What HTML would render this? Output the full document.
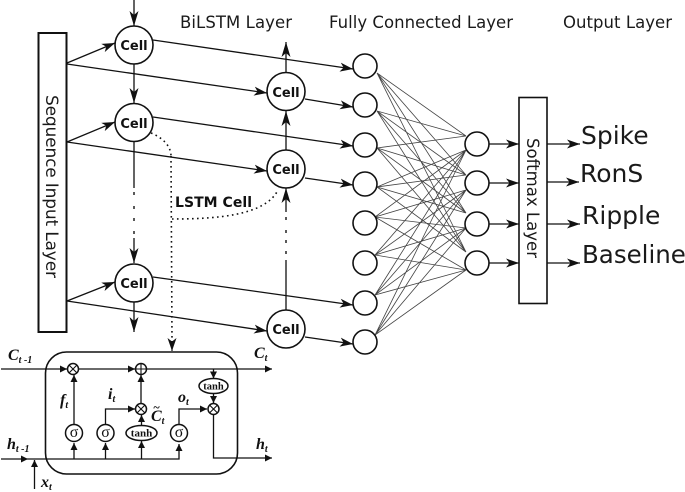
<!DOCTYPE html>
<html><head><meta charset="utf-8"><style>
html,body{margin:0;padding:0;background:#fff;width:685px;height:492px;overflow:hidden}
svg{display:block}
.t{font-family:"DejaVu Sans",sans-serif;fill:#1a1a1a}
.c{font-family:"DejaVu Sans",sans-serif;font-weight:bold;font-size:13px;text-anchor:middle;fill:#111}
.s{font-family:"Liberation Serif",serif;font-weight:bold;font-style:italic;font-size:15px;fill:#111}
.s tspan{font-size:10px}
.n{font-family:"Liberation Serif",serif;font-weight:bold;font-size:11px;text-anchor:middle;fill:#111}
.g{font-family:"Liberation Serif",serif;font-size:16px;text-anchor:middle;fill:#111}
</style></head><body>
<svg width="685" height="492" viewBox="0 0 685 492" xmlns="http://www.w3.org/2000/svg">
<defs>
<marker id="a" markerUnits="userSpaceOnUse" markerWidth="16" markerHeight="12" refX="13" refY="5" orient="auto"><path d="M0 0.500L13 5L0 9.500L3.500 5z" fill="#111"/></marker>
<marker id="v" markerUnits="userSpaceOnUse" markerWidth="18" markerHeight="12" refX="15" refY="5" orient="auto"><path d="M0 0.500L15 5L0 9.500L4 5z" fill="#111"/></marker>
<marker id="b" markerUnits="userSpaceOnUse" markerWidth="10" markerHeight="10" refX="7" refY="3.500" orient="auto"><path d="M0 0L7 3.500L0 7z" fill="#111"/></marker>
</defs>
<rect width="685" height="492" fill="#fff"/>

<!-- titles -->
<text class="t" x="180" y="28" font-size="16.5" textLength="112">BiLSTM Layer</text>
<text class="t" x="329" y="28" font-size="16.5" textLength="184">Fully Connected Layer</text>
<text class="t" x="563" y="28" font-size="16.5" textLength="109">Output Layer</text>

<!-- fully connected mesh -->
<path fill="none" stroke="#444" stroke-width="0.8" d="M377 73L466 136M377 73L466 175M377 73L466 213M377 73L466 252M377 111L466 136M377 111L466 175M377 111L466 213M377 111L466 252M377 148L466 136M377 148L466 175M377 148L466 213M377 148L466 252M377 187L466 150M377 187L466 175M377 187L466 213M377 187L466 252M375 217L466 150M375 217L466 190M375 217L466 228M375 217L466 270M375 255L466 150M375 255L466 190M375 255L466 228M375 255L466 270M375 295L466 150M375 295L466 190M375 295L466 228M375 295L466 270M375 335L466 150M375 335L466 190M375 335L466 228M375 335L466 270"/>

<!-- input rect -->
<rect x="38.500" y="33" width="28" height="299" fill="#fff" stroke="#111" stroke-width="2"/>
<text class="t" font-size="17" transform="translate(46,95) rotate(90)" textLength="183">Sequence Input Layer</text>

<!-- connectors -->
<g fill="none" stroke="#111" stroke-width="1.300">
<path d="M67 63L115 43" marker-end="url(#a)"/>
<path d="M67 64L267 93" marker-end="url(#a)"/>
<path d="M67 142L115 122" marker-end="url(#a)"/>
<path d="M67 142L267 171" marker-end="url(#a)"/>
<path d="M67 301L115 282" marker-end="url(#a)"/>
<path d="M67 301L267 331" marker-end="url(#a)"/>
<path d="M153 40L353 69" marker-end="url(#a)"/>
<path d="M305 99L353 107" marker-end="url(#a)"/>
<path d="M153 117L353 146" marker-end="url(#a)"/>
<path d="M305 178L353 185" marker-end="url(#a)"/>
<path d="M153 277L353 305" marker-end="url(#a)"/>
<path d="M305 337L353 344" marker-end="url(#a)"/>
<path d="M134 0V26" marker-end="url(#v)"/>
<path d="M134 64V103" marker-end="url(#v)"/>
<path d="M134 142V188"/>
<path d="M134 238V263" marker-end="url(#v)"/>
<path d="M134 302V332" marker-end="url(#v)"/>
<path d="M286 72V42" marker-end="url(#v)"/>
<path d="M286 150V111" marker-end="url(#v)"/>
<path d="M286 310V260"/>
<path d="M286 212V188" marker-end="url(#v)"/>
</g>
<g fill="none" stroke="#222" stroke-width="1.500">
<path d="M134 192V195M134 206V209M134 218V221M134 231V234"/>
<path d="M286 217V220M286 230V233M286 240V243M286 251V254"/>
</g>

<!-- dotted LSTM cell -->
<g fill="none" stroke="#111" stroke-width="1.600" stroke-dasharray="1.600 3.400">
<path d="M151 133C161 137 171 145 171 156"/>
<path d="M171 156L172 340"/>
<path d="M172 219C215 219 265 216 278 190"/>
</g>
<path d="M172 341V351" fill="none" stroke="#111" stroke-width="1.200" marker-end="url(#a)"/>
<text x="175" y="207" font-family="DejaVu Sans,sans-serif" font-weight="bold" font-size="14" fill="#111" textLength="77">LSTM Cell</text>

<!-- cells -->
<g fill="#fff" stroke="#111" stroke-width="1.600">
<circle cx="134" cy="45" r="19"/><circle cx="134" cy="122.500" r="19"/><circle cx="134" cy="283" r="19"/>
<circle cx="286" cy="91.500" r="19"/><circle cx="286" cy="169" r="19"/><circle cx="286" cy="329" r="19"/>
<circle cx="365" cy="66" r="12"/><circle cx="365" cy="105" r="12"/><circle cx="365" cy="145" r="12"/><circle cx="365" cy="184" r="12"/>
<circle cx="365" cy="223" r="12"/><circle cx="365" cy="263" r="12"/><circle cx="365" cy="303" r="12"/><circle cx="365" cy="342" r="12"/>
<circle cx="477" cy="144" r="12"/><circle cx="477" cy="183" r="12"/><circle cx="477" cy="224" r="12"/><circle cx="477" cy="263" r="12"/>
</g>
<text class="c" x="134" y="50">Cell</text><text class="c" x="134" y="128">Cell</text><text class="c" x="134" y="288">Cell</text>
<text class="c" x="286" y="97">Cell</text><text class="c" x="286" y="174">Cell</text><text class="c" x="286" y="334">Cell</text>

<!-- softmax -->
<g fill="none" stroke="#111" stroke-width="1.200">
<path d="M489 144H519" marker-end="url(#a)"/><path d="M489 183H519" marker-end="url(#a)"/><path d="M489 224H519" marker-end="url(#a)"/><path d="M489 263H519" marker-end="url(#a)"/>
<path d="M547 144H580" marker-end="url(#a)"/><path d="M547 182H579" marker-end="url(#a)"/><path d="M547 224H580" marker-end="url(#a)"/><path d="M547 263H580" marker-end="url(#a)"/>
</g>
<rect x="519" y="97.500" width="28" height="206" fill="#fff" stroke="#111" stroke-width="1.600"/>
<text class="t" font-size="16.5" transform="translate(527,138) rotate(90)" textLength="120">Softmax Layer</text>
<text class="t" x="581" y="144" font-size="25">Spike</text>
<text class="t" x="580" y="182" font-size="25">RonS</text>
<text class="t" x="582" y="224" font-size="25">Ripple</text>
<text class="t" x="582" y="263" font-size="24.500">Baseline</text>

<!-- LSTM cell detail -->
<rect x="45.500" y="352" width="192" height="122" rx="21" fill="none" stroke="#111" stroke-width="1.600"/>
<g fill="none" stroke="#111" stroke-width="1.300">
<path d="M1 369H67" marker-end="url(#b)"/>
<path d="M79 369H135" marker-end="url(#b)"/>
<path d="M147 369H272" marker-end="url(#b)"/>
<path d="M1 459H28" marker-end="url(#b)"/>
<path d="M28 459H179V444" marker-end="url(#b)"/>
<path d="M34.500 489V460" marker-end="url(#b)"/>
<path d="M74 459V443" marker-end="url(#b)"/>
<path d="M105.500 459V443" marker-end="url(#b)"/>
<path d="M141.500 459V441" marker-end="url(#b)"/>
<path d="M74 424V375" marker-end="url(#b)"/>
<path d="M105.500 424V409H135" marker-end="url(#b)"/>
<path d="M141.500 425V415" marker-end="url(#b)"/>
<path d="M141 403V375" marker-end="url(#b)"/>
<path d="M179 424V409H207" marker-end="url(#b)"/>
<path d="M213.500 369V378.500" marker-end="url(#b)"/>
<path d="M213.500 393V403" marker-end="url(#b)"/>
<path d="M213.500 415V458H272" marker-end="url(#b)"/>
</g>
<g fill="#fff" stroke="#111" stroke-width="1.500">
<circle cx="74" cy="433" r="8.500"/><circle cx="105.500" cy="433" r="8.500"/><circle cx="179" cy="433" r="8.500"/>
<ellipse cx="141.500" cy="433" rx="15.500" ry="7.500"/><ellipse cx="213.500" cy="386" rx="14.500" ry="7.500"/>
<circle cx="73" cy="369" r="5.500"/><circle cx="141" cy="369" r="5.500"/><circle cx="141" cy="409" r="5.500"/><circle cx="213.500" cy="409" r="5.500"/>
</g>
<g stroke="#111" stroke-width="1.100" fill="none">
<path d="M69.100 365.100L76.900 372.900M76.900 365.100L69.100 372.900"/>
<path d="M135.500 369H146.500M141 363.500V374.500"/>
<path d="M137.100 405.100L144.900 412.900M144.900 405.100L137.100 412.900"/>
<path d="M209.600 405.100L217.400 412.900M217.400 405.100L209.600 412.900"/>
</g>
<text class="g" x="74" y="437">σ</text><text class="g" x="105.500" y="437">σ</text><text class="g" x="179" y="437">σ</text>
<text class="n" x="141.500" y="436.500">tanh</text><text class="n" x="213.500" y="389.500" style="font-size:10.500px">tanh</text>
<text class="s" x="8" y="360" style="font-size:16px">C<tspan dy="3">t -1</tspan></text>
<text class="s" x="254" y="358" style="font-size:16px">C<tspan dy="3">t</tspan></text>
<text class="s" x="60" y="405" style="font-size:16px">f<tspan dy="3">t</tspan></text>
<text class="s" x="108" y="399" style="font-size:16px">i<tspan dy="3">t</tspan></text>
<text class="s" x="178" y="402" style="font-size:16px">o<tspan dy="3">t</tspan></text>
<text class="s" x="151" y="421" style="font-size:16px">C<tspan dy="3">t</tspan></text>
<text class="s" x="153" y="411" style="font-size:12px">~</text>
<text class="s" x="7" y="449" style="font-size:16px">h<tspan dy="3">t -1</tspan></text>
<text class="s" x="256" y="449" style="font-size:16px">h<tspan dy="3">t</tspan></text>
<text class="s" x="41" y="487" style="font-size:16px">x<tspan dy="3">t</tspan></text>
</svg>
</body></html>
